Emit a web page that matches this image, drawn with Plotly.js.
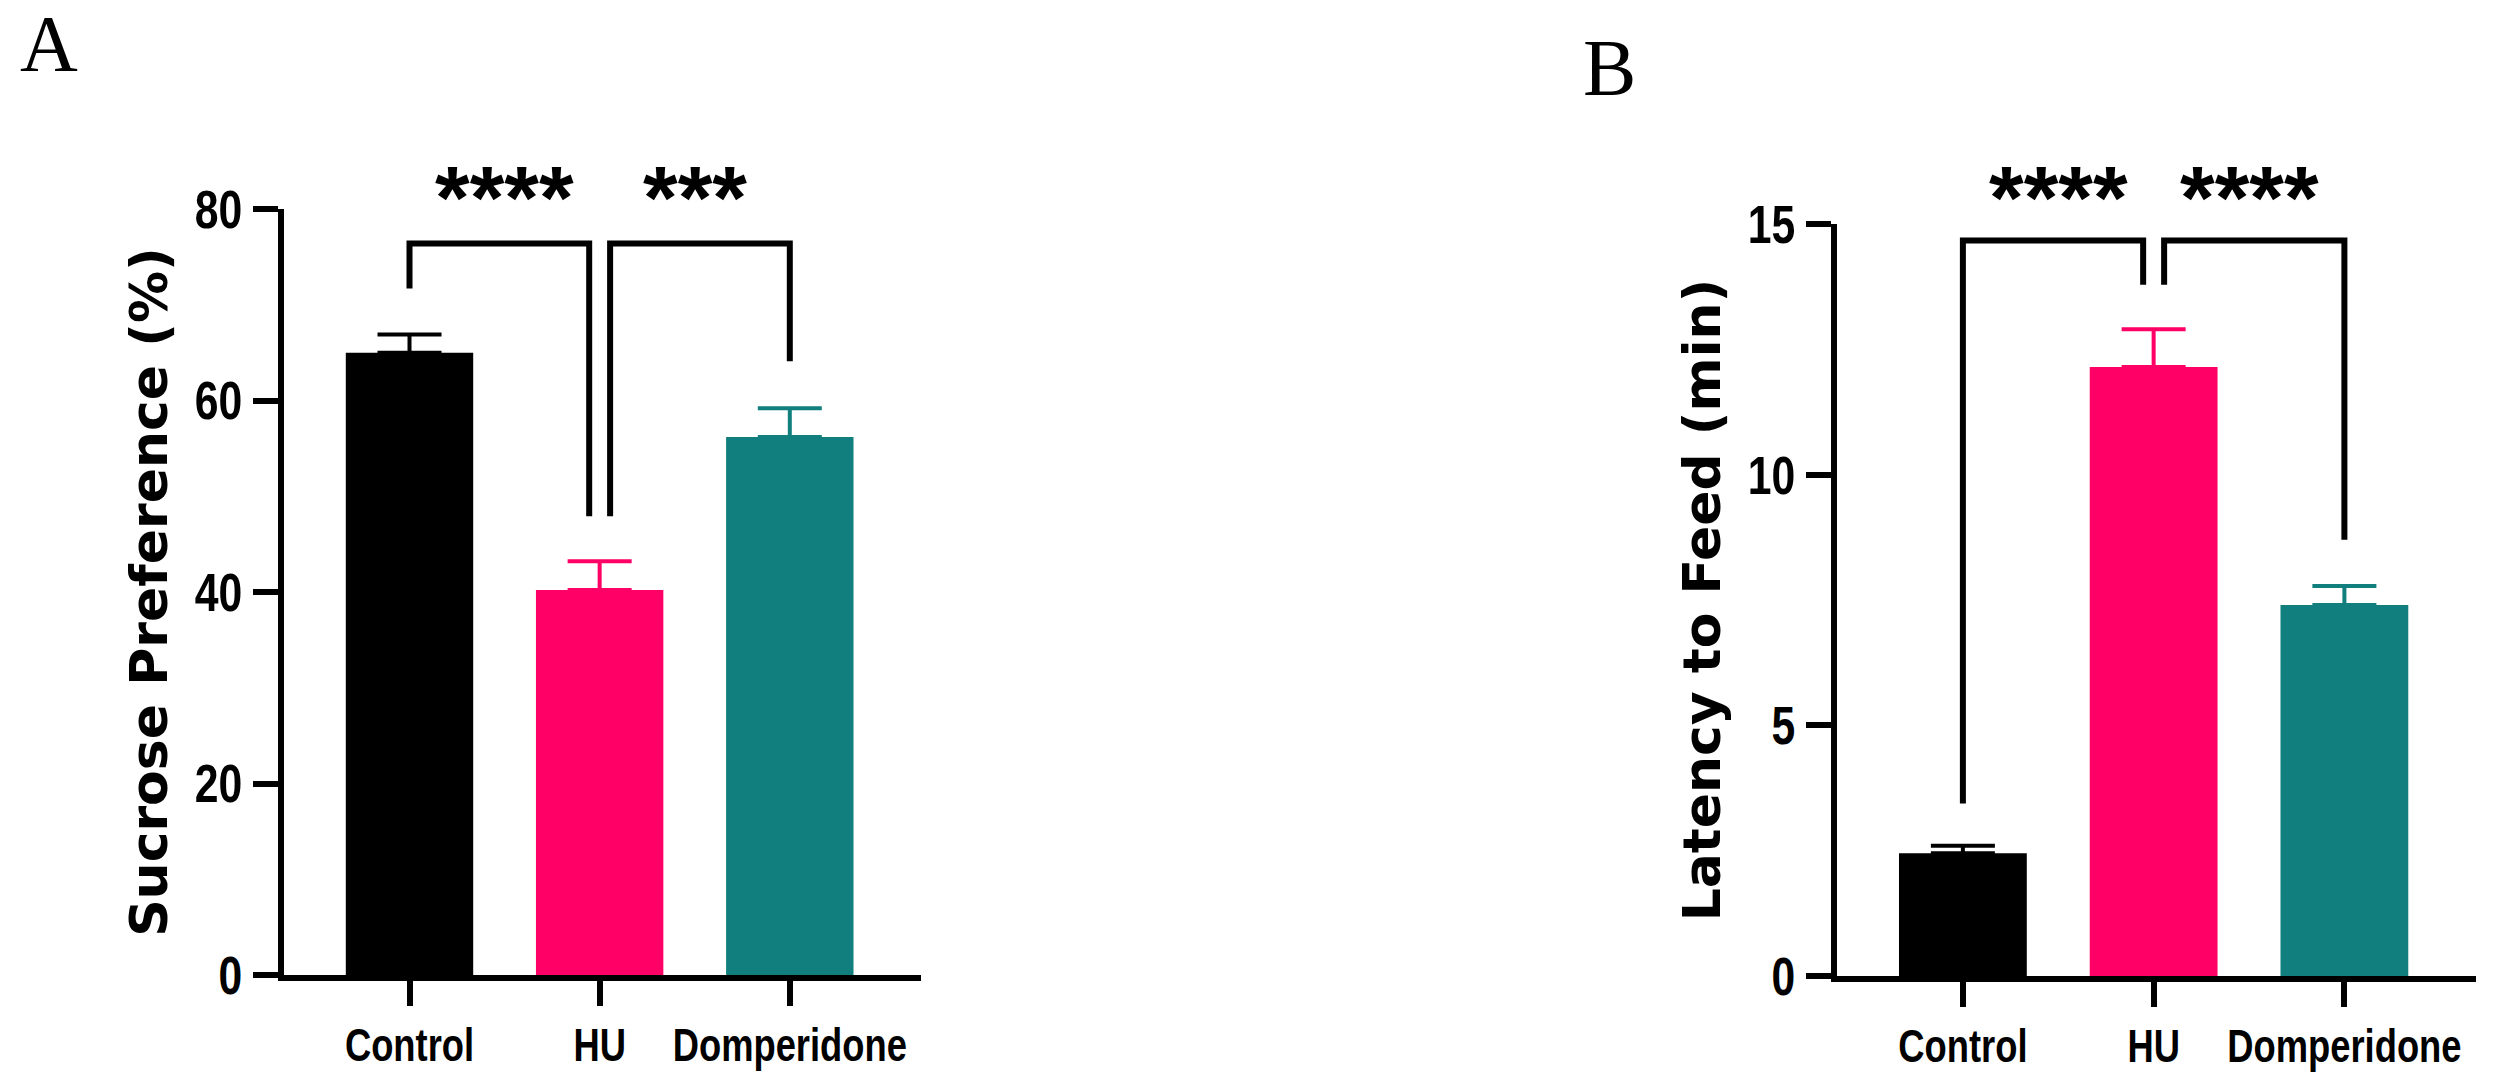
<!DOCTYPE html>
<html>
<head>
<meta charset="utf-8">
<script src="https://cdn.plot.ly/plotly-3.0.1.min.js"></script>
<style>
  html, body { margin: 0; padding: 0; background: #ffffff; }
  #chart { width: 2498px; height: 1087px; }
</style>
</head>
<body>
<div id="chart"></div>
<script>
// ---------------- data ----------------
const categories = ['Control', 'HU', 'Domperidone'];
const barColors = ['#000000', '#FF0066', '#117F7D'];

// Panel A: sucrose preference (%)
const sucroseMean = [65.0, 40.2, 56.2];
const sucroseSem  = [1.9, 3.0, 3.0];
const sucroseTicks = [0, 20, 40, 60, 80];
const sucroseSig = ['****', '***'];

// Panel B: latency to feed (min)
const latencyMean = [2.45, 12.15, 7.4];
const latencySem  = [0.15, 0.75, 0.38];
const latencyTicks = [0, 5, 10, 15];
const latencySig = ['****', '****'];

// comparisons (category index pairs) shared by both panels
const sigPairs = [[0, 1], [1, 2]];

// ---------------- helpers ----------------
const W = 2498, H = 1087;
const px = v => v / W;
const py = v => 1 - v / H;

const tickFont = "'Liberation Sans', Arial, sans-serif";
const titleFont = "'DejaVu Sans', sans-serif";
const starFont = "'Liberation Sans', Arial, sans-serif";

function barTraces(means, sems, xa, ya) {
  return categories.map((c, i) => ({
    type: 'bar',
    x: [c],
    y: [means[i]],
    width: 0.67,
    xaxis: xa, yaxis: ya,
    marker: { color: barColors[i], line: { width: 0 } },
    error_y: {
      type: 'data', symmetric: false,
      array: [sems[i]], arrayminus: [0],
      color: barColors[i], thickness: 4, width: 32
    },
    showlegend: false,
    hoverinfo: 'x+y'
  }));
}

// bracket geometry (data units) for each comparison
function brackets(xref, yref, topY, legEnds, labels, shift) {
  const shapes = [], anns = [];
  sigPairs.forEach((p, k) => {
    const x0 = p[0] + (k === 1 ? 0.055 : 0);
    const x1 = p[1] - (k === 0 ? 0.055 : 0);
    shapes.push({ type: 'path', xref, yref,
      path: `M ${x0},${legEnds[k][0]} L ${x0},${topY} L ${x1},${topY} L ${x1},${legEnds[k][1]}`,
      line: { color: '#000000', width: 6 }, fillcolor: 'rgba(0,0,0,0)' });
    anns.push({ xref, yref, x: (p[0] + p[1]) / 2, y: topY, yshift: shift,
      text: labels[k], showarrow: false, xanchor: 'center', yanchor: 'middle',
      font: { family: starFont, size: 89, color: '#000000', weight: 'bold' } });
  });
  return { shapes, anns };
}

const bA = brackets('x', 'y', 76.4, [[71.7, 47.9], [47.9, 64.1]], sucroseSig, 46);
const bB = brackets('x2', 'y2', 14.67, [[3.44, 13.79], [13.79, 8.70]], latencySig, 44);

function yAxis(domain, anchor, range, ticks, title) {
  return {
    domain, anchor, range, tickvals: ticks, ticktext: ticks.map(String),
    showgrid: false, zeroline: false, fixedrange: true,
    showline: true, linecolor: '#000000', linewidth: 6,
    ticks: 'outside', ticklen: 25, tickwidth: 6, tickcolor: '#000000',
    tickfont: { family: tickFont, size: 54, color: '#000000', weight: 'bold' },
    title: { text: title, standoff: 0,
      font: { family: titleFont, size: 52, color: '#000000', weight: 'bold' } },
    automargin: false
  };
}
function xAxis(domain, anchor) {
  return {
    domain, anchor, range: [-0.66, 2.69], type: 'category',
    categoryorder: 'array', categoryarray: categories,
    showgrid: false, zeroline: false, fixedrange: true,
    showline: true, linecolor: '#000000', linewidth: 6,
    ticks: 'outside', ticklen: 25, tickwidth: 6, tickcolor: '#000000',
    tickfont: { family: tickFont, size: 46, color: '#000000', weight: 'bold' },
    automargin: false
  };
}

const data = [
  ...barTraces(sucroseMean, sucroseSem, 'x', 'y'),
  ...barTraces(latencyMean, latencySem, 'x2', 'y2')
];

const layout = {
  width: W, height: H,
  margin: { l: 0, r: 0, t: 0, b: 0 },
  paper_bgcolor: '#ffffff', plot_bgcolor: 'rgba(0,0,0,0)',
  barmode: 'overlay',
  showlegend: false,
  xaxis: xAxis([px(284), px(921)], 'y'),
  yaxis: yAxis([py(975), py(209)], 'x', [0, 80], sucroseTicks, 'Sucrose Preference (%)'),
  xaxis2: xAxis([px(1837), px(2476)], 'y2'),
  yaxis2: yAxis([py(976), py(224)], 'x2', [0, 15], latencyTicks, 'Latency to Feed (min)'),
  shapes: [...bA.shapes, ...bB.shapes],
  annotations: [
    ...bA.anns, ...bB.anns,
    { xref: 'paper', yref: 'paper', x: px(18), y: py(90), xanchor: 'left', yanchor: 'bottom',
      text: 'A', showarrow: false,
      font: { family: "'Liberation Serif', 'Times New Roman', serif", size: 80, color: '#000000' } },
    { xref: 'paper', yref: 'paper', x: px(1581), y: py(114), xanchor: 'left', yanchor: 'bottom',
      text: 'B', showarrow: false,
      font: { family: "'Liberation Serif', 'Times New Roman', serif", size: 80, color: '#000000' } }
  ]
};

// the original tick labels are a narrow (condensed) bold face: squeeze them horizontally
function condenseTicks() {
  document.querySelectorAll('.xtick text, .ytick text, .x2tick text, .y2tick text').forEach(t => {
    const len = t.getComputedTextLength();
    t.setAttribute('textLength', (len * 0.79).toFixed(1));
    t.setAttribute('lengthAdjust', 'spacingAndGlyphs');
  });
}

Plotly.newPlot('chart', data, layout, { displayModeBar: false, staticPlot: true }).then(condenseTicks);
</script>
</body>
</html>
